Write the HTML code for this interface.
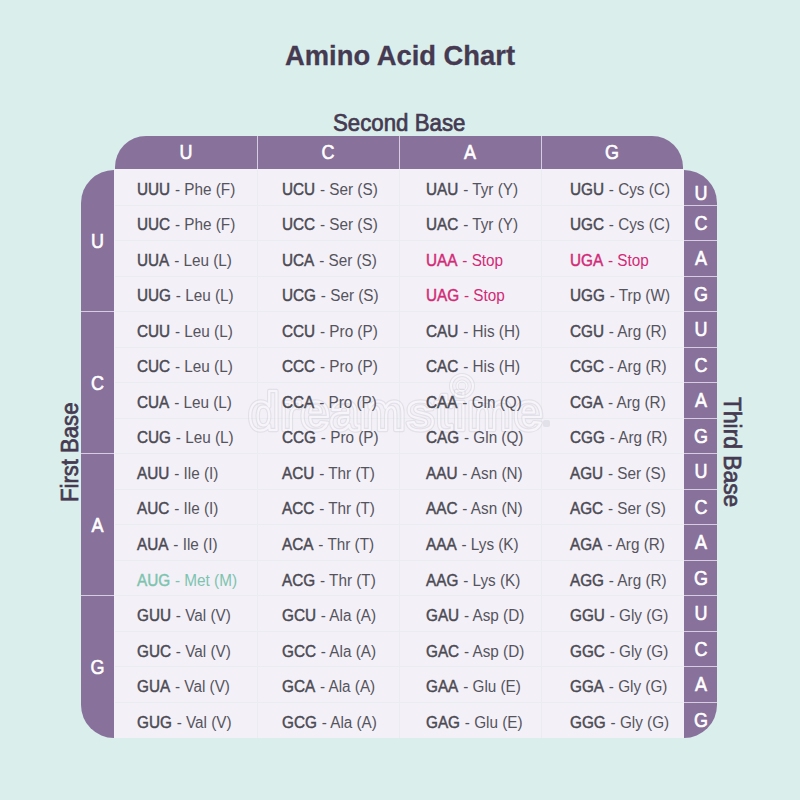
<!DOCTYPE html>
<html><head><meta charset="utf-8"><style>
html,body{margin:0;padding:0;}
body{width:800px;height:800px;background:#daeeec;position:relative;overflow:hidden;font-family:"Liberation Sans",sans-serif;}
.t{position:absolute;white-space:nowrap;line-height:1;transform-origin:0 0;}
.title{left:285px;top:42px;font-weight:bold;font-size:28px;color:#453a51;transform:scaleX(0.977);-webkit-text-stroke:0.3px #453a51;}
.sb{left:333px;top:111.5px;font-size:23.5px;color:#453a51;transform:scaleX(0.947);-webkit-text-stroke:0.7px #453a51;}
.fb{left:58.5px;top:502px;font-size:23.5px;color:#453a51;transform:rotate(-90deg) scaleX(0.94);-webkit-text-stroke:0.7px #453a51;}
.tb{left:743px;top:397px;font-size:23.5px;color:#453a51;transform:rotate(90deg) scaleX(0.97);-webkit-text-stroke:0.7px #453a51;}
.header{position:absolute;left:115px;top:136px;width:568px;height:33px;background:#88719b;border-radius:31px 31px 0 0;}
.hd{position:absolute;top:136px;width:142px;height:33px;line-height:33px;text-align:center;color:#fff;font-size:19.5px;-webkit-text-stroke:0.6px #fff;transform:scaleX(0.92);}
.hsep{position:absolute;top:136px;width:1px;height:33px;background:#d6cde3;}
.body{position:absolute;left:114px;top:169px;width:570px;height:569px;background:#f3f0f7;}
.hl{position:absolute;left:115px;width:568px;height:1px;background:#e8edf1;}
.vl{position:absolute;top:170px;width:1px;height:568px;background:#e8edf1;}
.c{position:absolute;line-height:1;font-size:16px;color:#55545d;white-space:nowrap;transform-origin:0 0;transform:scaleX(0.955);}
.c b{margin-right:0.7px;font-weight:normal;color:#4b4a53;-webkit-text-stroke:0.45px #4b4a53;}
.c.stop b{color:#d22a76;-webkit-text-stroke-color:#d22a76;}
.c.met b{color:#7cc4ae;-webkit-text-stroke-color:#7cc4ae;}
.c.stop{color:#d22a76;}
.c.met{color:#7cc4ae;}
.lcol{position:absolute;left:81px;top:170px;width:33px;height:568px;background:#88719b;border-radius:33px 0 0 33px;}
.lb{position:absolute;left:81px;width:33px;height:142.0px;line-height:142.0px;text-align:center;color:#fff;font-size:19.5px;-webkit-text-stroke:0.6px #fff;transform:scaleX(0.92);}
.lsep{position:absolute;left:81px;width:33px;height:1px;background:#d6cde3;}
.rcol{position:absolute;left:684px;top:170px;width:33px;height:568px;background:#88719b;border-radius:0 33px 33px 0;}
.rb{position:absolute;left:685px;width:32px;height:35.5px;line-height:35.5px;text-align:center;color:#fff;font-size:19.5px;-webkit-text-stroke:0.6px #fff;transform:scaleX(0.92);}
.rsep{position:absolute;left:684px;width:33px;height:1px;background:#d6cde3;}
</style></head><body>
<div class="t title">Amino Acid Chart</div>
<div class="t sb">Second Base</div>
<div class="header"></div>
<div class="hsep" style="left:257px"></div><div class="hsep" style="left:399px"></div><div class="hsep" style="left:541px"></div>
<div class="hd" style="left:115px">U</div><div class="hd" style="left:257px">C</div><div class="hd" style="left:399px">A</div><div class="hd" style="left:541px">G</div>
<div class="body"></div>
<div class="hl" style="top:205px"></div><div class="hl" style="top:240px"></div><div class="hl" style="top:276px"></div><div class="hl" style="top:311px"></div><div class="hl" style="top:347px"></div><div class="hl" style="top:382px"></div><div class="hl" style="top:418px"></div><div class="hl" style="top:453px"></div><div class="hl" style="top:489px"></div><div class="hl" style="top:524px"></div><div class="hl" style="top:560px"></div><div class="hl" style="top:595px"></div><div class="hl" style="top:631px"></div><div class="hl" style="top:666px"></div><div class="hl" style="top:702px"></div>
<div class="vl" style="left:257px"></div><div class="vl" style="left:399px"></div><div class="vl" style="left:541px"></div>
<svg class="wm" width="800" height="800" viewBox="0 0 800 800" style="position:absolute;left:0;top:0;pointer-events:none;">
<g font-family="Liberation Sans" font-weight="bold" font-size="54" opacity="0.38">
<text x="248" y="430" textLength="295" lengthAdjust="spacingAndGlyphs" fill="none" stroke="#c9c7d2" stroke-width="4.5" stroke-linejoin="round">dreamstime</text>
<text x="248" y="430" textLength="295" lengthAdjust="spacingAndGlyphs" fill="none" stroke="#ffffff" stroke-width="2.2" stroke-linejoin="round">dreamstime</text>
</g>
<g opacity="0.38" fill="none">
<circle cx="462" cy="386" r="11" stroke="#c9c7d2" stroke-width="4"/>
<circle cx="462" cy="386" r="11" stroke="#fff" stroke-width="2"/>
<circle cx="462" cy="386" r="5" stroke="#c9c7d2" stroke-width="3"/>
<circle cx="462" cy="386" r="5" stroke="#fff" stroke-width="1.5"/>
<rect x="543" y="420" width="7" height="7" rx="2" fill="#c9c7d2"/>
</g>
</svg>
<div class="c" style="left:137.0px;top:181.50px"><b>UUU</b> - Phe (F)</div><div class="c" style="left:281.7px;top:181.50px"><b>UCU</b> - Ser (S)</div><div class="c" style="left:425.7px;top:181.50px"><b>UAU</b> - Tyr (Y)</div><div class="c" style="left:570.2px;top:181.50px"><b>UGU</b> - Cys (C)</div><div class="c" style="left:137.0px;top:217.05px"><b>UUC</b> - Phe (F)</div><div class="c" style="left:281.7px;top:217.05px"><b>UCC</b> - Ser (S)</div><div class="c" style="left:425.7px;top:217.05px"><b>UAC</b> - Tyr (Y)</div><div class="c" style="left:570.2px;top:217.05px"><b>UGC</b> - Cys (C)</div><div class="c" style="left:137.0px;top:252.60px"><b>UUA</b> - Leu (L)</div><div class="c" style="left:281.7px;top:252.60px"><b>UCA</b> - Ser (S)</div><div class="c stop" style="left:425.7px;top:252.60px"><b>UAA</b> - Stop</div><div class="c stop" style="left:570.2px;top:252.60px"><b>UGA</b> - Stop</div><div class="c" style="left:137.0px;top:288.15px"><b>UUG</b> - Leu (L)</div><div class="c" style="left:281.7px;top:288.15px"><b>UCG</b> - Ser (S)</div><div class="c stop" style="left:425.7px;top:288.15px"><b>UAG</b> - Stop</div><div class="c" style="left:570.2px;top:288.15px"><b>UGG</b> - Trp (W)</div><div class="c" style="left:137.0px;top:323.70px"><b>CUU</b> - Leu (L)</div><div class="c" style="left:281.7px;top:323.70px"><b>CCU</b> - Pro (P)</div><div class="c" style="left:425.7px;top:323.70px"><b>CAU</b> - His (H)</div><div class="c" style="left:570.2px;top:323.70px"><b>CGU</b> - Arg (R)</div><div class="c" style="left:137.0px;top:359.25px"><b>CUC</b> - Leu (L)</div><div class="c" style="left:281.7px;top:359.25px"><b>CCC</b> - Pro (P)</div><div class="c" style="left:425.7px;top:359.25px"><b>CAC</b> - His (H)</div><div class="c" style="left:570.2px;top:359.25px"><b>CGC</b> - Arg (R)</div><div class="c" style="left:137.0px;top:394.80px"><b>CUA</b> - Leu (L)</div><div class="c" style="left:281.7px;top:394.80px"><b>CCA</b> - Pro (P)</div><div class="c" style="left:425.7px;top:394.80px"><b>CAA</b> - Gln (Q)</div><div class="c" style="left:570.2px;top:394.80px"><b>CGA</b> - Arg (R)</div><div class="c" style="left:137.0px;top:430.35px"><b>CUG</b> - Leu (L)</div><div class="c" style="left:281.7px;top:430.35px"><b>CCG</b> - Pro (P)</div><div class="c" style="left:425.7px;top:430.35px"><b>CAG</b> - Gln (Q)</div><div class="c" style="left:570.2px;top:430.35px"><b>CGG</b> - Arg (R)</div><div class="c" style="left:137.0px;top:465.90px"><b>AUU</b> - Ile (I)</div><div class="c" style="left:281.7px;top:465.90px"><b>ACU</b> - Thr (T)</div><div class="c" style="left:425.7px;top:465.90px"><b>AAU</b> - Asn (N)</div><div class="c" style="left:570.2px;top:465.90px"><b>AGU</b> - Ser (S)</div><div class="c" style="left:137.0px;top:501.45px"><b>AUC</b> - Ile (I)</div><div class="c" style="left:281.7px;top:501.45px"><b>ACC</b> - Thr (T)</div><div class="c" style="left:425.7px;top:501.45px"><b>AAC</b> - Asn (N)</div><div class="c" style="left:570.2px;top:501.45px"><b>AGC</b> - Ser (S)</div><div class="c" style="left:137.0px;top:537.00px"><b>AUA</b> - Ile (I)</div><div class="c" style="left:281.7px;top:537.00px"><b>ACA</b> - Thr (T)</div><div class="c" style="left:425.7px;top:537.00px"><b>AAA</b> - Lys (K)</div><div class="c" style="left:570.2px;top:537.00px"><b>AGA</b> - Arg (R)</div><div class="c met" style="left:137.0px;top:572.55px"><b>AUG</b> - Met (M)</div><div class="c" style="left:281.7px;top:572.55px"><b>ACG</b> - Thr (T)</div><div class="c" style="left:425.7px;top:572.55px"><b>AAG</b> - Lys (K)</div><div class="c" style="left:570.2px;top:572.55px"><b>AGG</b> - Arg (R)</div><div class="c" style="left:137.0px;top:608.10px"><b>GUU</b> - Val (V)</div><div class="c" style="left:281.7px;top:608.10px"><b>GCU</b> - Ala (A)</div><div class="c" style="left:425.7px;top:608.10px"><b>GAU</b> - Asp (D)</div><div class="c" style="left:570.2px;top:608.10px"><b>GGU</b> - Gly (G)</div><div class="c" style="left:137.0px;top:643.65px"><b>GUC</b> - Val (V)</div><div class="c" style="left:281.7px;top:643.65px"><b>GCC</b> - Ala (A)</div><div class="c" style="left:425.7px;top:643.65px"><b>GAC</b> - Asp (D)</div><div class="c" style="left:570.2px;top:643.65px"><b>GGC</b> - Gly (G)</div><div class="c" style="left:137.0px;top:679.20px"><b>GUA</b> - Val (V)</div><div class="c" style="left:281.7px;top:679.20px"><b>GCA</b> - Ala (A)</div><div class="c" style="left:425.7px;top:679.20px"><b>GAA</b> - Glu (E)</div><div class="c" style="left:570.2px;top:679.20px"><b>GGA</b> - Gly (G)</div><div class="c" style="left:137.0px;top:714.75px"><b>GUG</b> - Val (V)</div><div class="c" style="left:281.7px;top:714.75px"><b>GCG</b> - Ala (A)</div><div class="c" style="left:425.7px;top:714.75px"><b>GAG</b> - Glu (E)</div><div class="c" style="left:570.2px;top:714.75px"><b>GGG</b> - Gly (G)</div>
<div class="lcol"></div>
<div class="lsep" style="top:311px"></div><div class="lsep" style="top:453px"></div><div class="lsep" style="top:595px"></div>
<div class="lb" style="top:170.0px">U</div><div class="lb" style="top:312.0px">C</div><div class="lb" style="top:454.0px">A</div><div class="lb" style="top:596.0px">G</div>
<div class="rcol"></div>
<div class="rsep" style="top:205px"></div><div class="rsep" style="top:240px"></div><div class="rsep" style="top:276px"></div><div class="rsep" style="top:311px"></div><div class="rsep" style="top:347px"></div><div class="rsep" style="top:382px"></div><div class="rsep" style="top:418px"></div><div class="rsep" style="top:453px"></div><div class="rsep" style="top:489px"></div><div class="rsep" style="top:524px"></div><div class="rsep" style="top:560px"></div><div class="rsep" style="top:595px"></div><div class="rsep" style="top:631px"></div><div class="rsep" style="top:666px"></div><div class="rsep" style="top:702px"></div>
<div class="rb" style="top:175.5px">U</div><div class="rb" style="top:205.5px">C</div><div class="rb" style="top:241.0px">A</div><div class="rb" style="top:276.5px">G</div><div class="rb" style="top:312.0px">U</div><div class="rb" style="top:347.5px">C</div><div class="rb" style="top:383.0px">A</div><div class="rb" style="top:418.5px">G</div><div class="rb" style="top:454.0px">U</div><div class="rb" style="top:489.5px">C</div><div class="rb" style="top:525.0px">A</div><div class="rb" style="top:560.5px">G</div><div class="rb" style="top:596.0px">U</div><div class="rb" style="top:631.5px">C</div><div class="rb" style="top:667.0px">A</div><div class="rb" style="top:702.5px">G</div>

<div class="t fb">First Base</div>
<div class="t tb">Third Base</div>
</body></html>
